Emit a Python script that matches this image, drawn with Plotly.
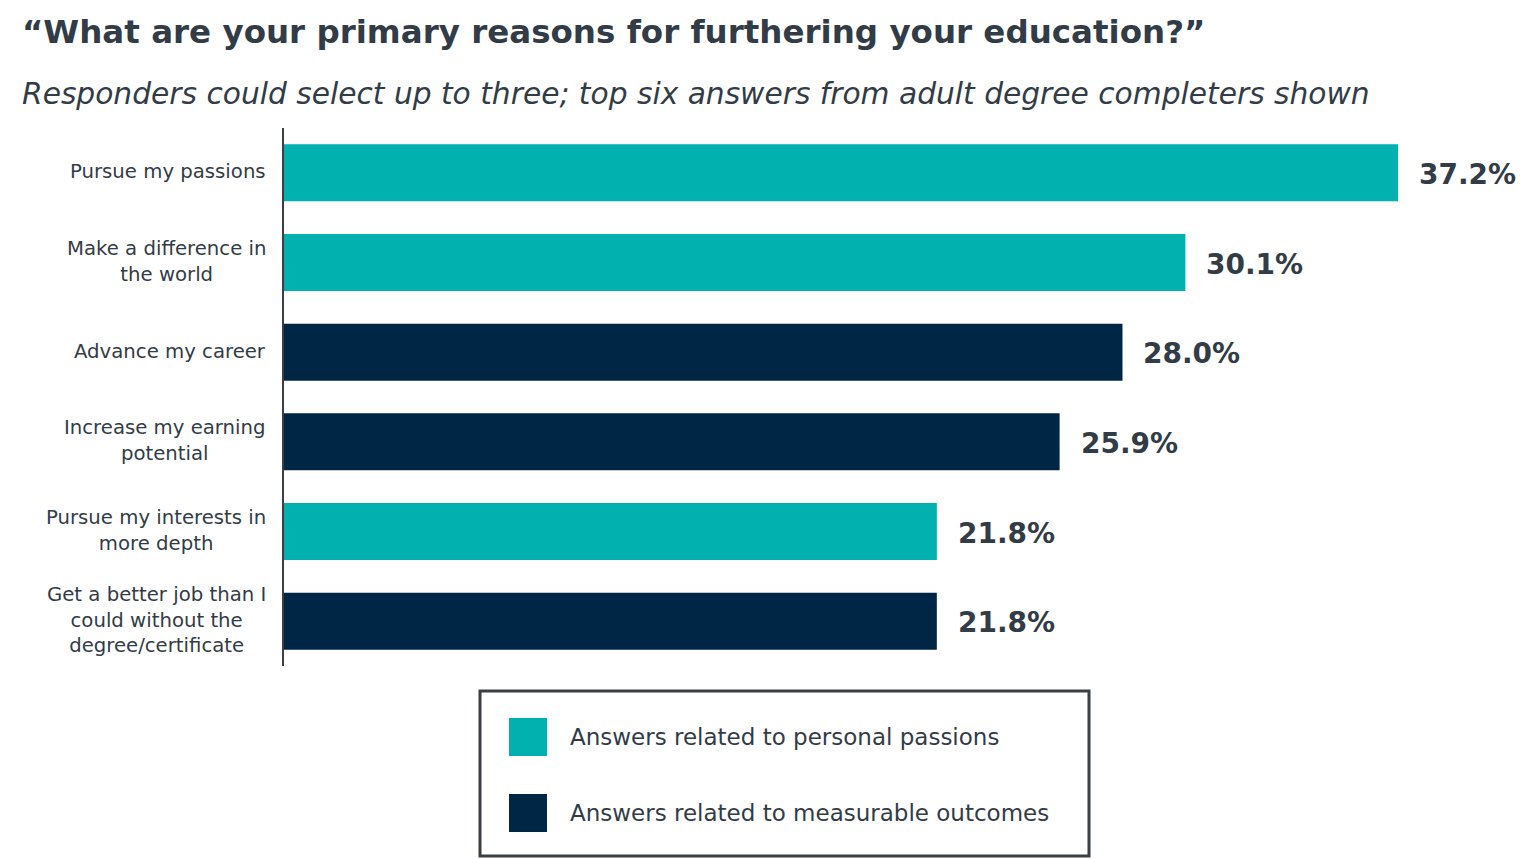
import plotly.graph_objects as go

W, H = 1536, 859

title = "“What are your primary reasons for furthering your education?”"
subtitle = "Responders could select up to three; top six answers from adult degree completers shown"

categories = [
    "Pursue my passions",
    "Make a difference in<br>the world",
    "Advance my career",
    "Increase my earning<br>potential",
    "Pursue my interests in<br>more depth",
    "Get a better job than I<br>could without the<br>degree/certificate",
]
values = [37.2, 30.1, 28.0, 25.9, 21.8, 21.8]
groups = ["personal", "personal", "measurable", "measurable", "personal", "measurable"]

group_colors = {"personal": "#00B1AF", "measurable": "#002646"}
legend_labels = {
    "personal": "Answers related to personal passions",
    "measurable": "Answers related to measurable outcomes",
}

TEXT = "#323C47"
FONT = "DejaVu Sans, Verdana, sans-serif"

def px_x(p):
    return p / W

def px_y(p):
    return 1 - p / H

fig = go.Figure()
fig.add_trace(go.Bar(
    x=values,
    y=categories,
    orientation="h",
    width=0.635,
    marker=dict(color=[group_colors[g] for g in groups], line=dict(width=0)),
    hoverinfo="skip",
    showlegend=False,
))

annotations = []
# value labels
for c, v in zip(categories, values):
    annotations.append(dict(
        x=v, y=c, xref="x", yref="y", text=f"<b>{v:.1f}%</b>",
        showarrow=False, xanchor="left", yanchor="middle", xshift=19, yshift=-1.5,
        font=dict(family=FONT, size=28, color=TEXT),
    ))
# category labels (centered multi-line)
for c in categories:
    annotations.append(dict(
        x=px_x(284), y=c, xref="paper", yref="y", text=c,
        showarrow=False, xanchor="right", yanchor="middle", align="center",
        xshift=-16, yshift=1, font=dict(family=FONT, size=19.7, color=TEXT),
    ))
# title & subtitle
annotations.append(dict(
    x=px_x(20), y=px_y(32), xref="paper", yref="paper", text=f"<b>{title}</b>",
    showarrow=False, xanchor="left", yanchor="middle",
    font=dict(family=FONT, size=32.5, color=TEXT),
))
annotations.append(dict(
    x=px_x(20), y=px_y(93), xref="paper", yref="paper", text=f"<i>{subtitle}</i>",
    showarrow=False, xanchor="left", yanchor="middle",
    font=dict(family=FONT, size=29.7, color=TEXT),
))

shapes = [dict(
    type="rect", xref="paper", yref="paper",
    x0=px_x(480), x1=px_x(1089), y0=px_y(856), y1=px_y(691),
    line=dict(color="#3A3F46", width=3), fillcolor="rgba(0,0,0,0)",
)]
for i, g in enumerate(["personal", "measurable"]):
    cy = 737 + i * 76
    shapes.append(dict(
        type="rect", xref="paper", yref="paper",
        x0=px_x(509), x1=px_x(547), y0=px_y(cy + 19), y1=px_y(cy - 19),
        line=dict(width=0), fillcolor=group_colors[g],
    ))
    annotations.append(dict(
        x=px_x(568), y=px_y(cy), xref="paper", yref="paper", text=legend_labels[g],
        showarrow=False, xanchor="left", yanchor="middle",
        font=dict(family=FONT, size=23, color=TEXT),
    ))

px_per_unit = (1398 - 284) / 37.2
xmax = (W - 284) / px_per_unit

fig.update_layout(
    width=W, height=H,
    margin=dict(l=0, r=0, t=0, b=0),
    paper_bgcolor="white", plot_bgcolor="white",
    font=dict(family=FONT, color=TEXT),
    xaxis=dict(domain=[px_x(284), 1], range=[0, xmax], visible=False, fixedrange=True),
    yaxis=dict(
        domain=[px_y(666), px_y(128)],
        categoryorder="array", categoryarray=categories,
        range=[5.5, -0.5],
        showticklabels=False, ticks="", showgrid=False, zeroline=False,
        showline=True, linecolor="#3A3F46", linewidth=2, fixedrange=True,
    ),
    annotations=annotations,
    shapes=shapes,
    showlegend=False,
)

fig.write_html("out.html")
